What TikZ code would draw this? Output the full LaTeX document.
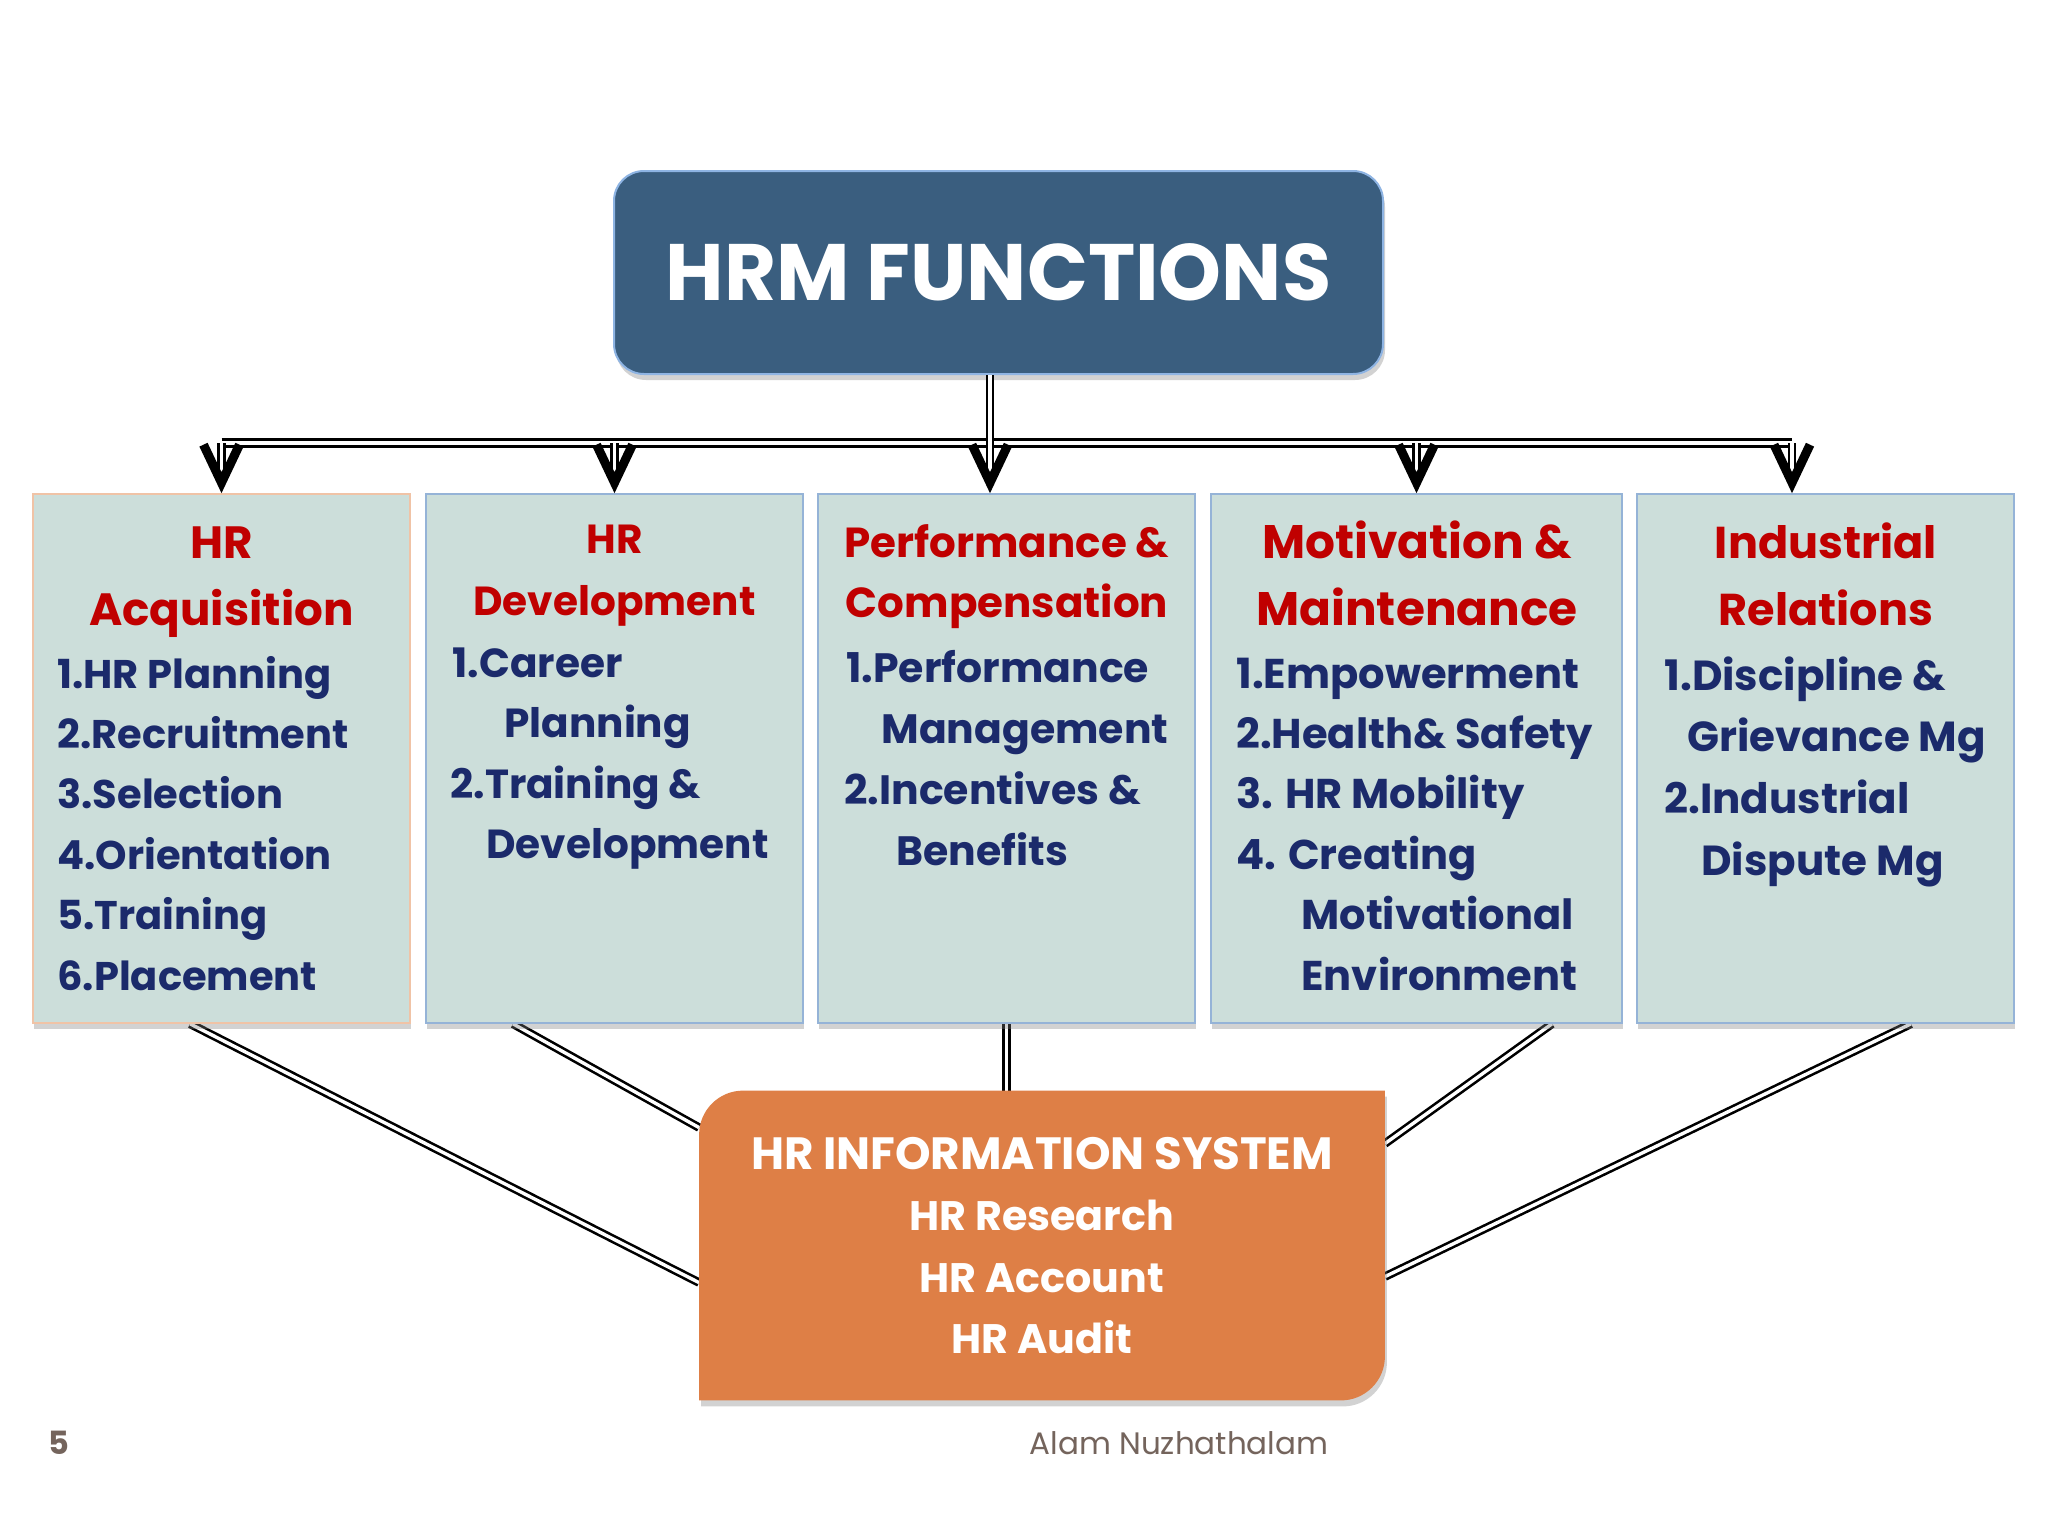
\documentclass[tikz,border=0pt]{standalone}
\usepackage{fontspec}
\setmainfont{Poppins}
\usetikzlibrary{arrows.meta,calc,shadows,backgrounds}

\definecolor{hrmblue}{HTML}{3A5E7F}
\definecolor{hrmedge}{HTML}{8EB4E3}
\definecolor{boxfill}{HTML}{CCDEDA}
\definecolor{boxedge}{HTML}{95B3D7}
\definecolor{peach}{HTML}{F0C3A6}
\definecolor{headred}{HTML}{C00000}
\definecolor{itemblue}{HTML}{1B2A6B}
\definecolor{hrisorange}{HTML}{DE7F46}
\definecolor{footgrey}{HTML}{74645C}

\tikzset{
  topbox/.style={draw=hrmedge, fill=hrmblue, line width=1pt, rounded corners=15pt,
    minimum width=384.5pt, minimum height=101.5pt, inner sep=0pt, text=white,
    font=\bfseries\fontsize{40}{40}\selectfont,
    drop shadow={shadow xshift=1pt, shadow yshift=-3pt, opacity=0.35}},
  fbox/.style={fill=boxfill, line width=0.8pt, minimum height=264.5pt, inner sep=0pt,
    drop shadow={shadow xshift=0.5pt, shadow yshift=-3pt, opacity=0.35}},
  head/.style={anchor=base, inner sep=0pt, text=headred, font=\bfseries\fontsize{#1}{#1}\selectfont},
  item/.style={anchor=base west, inner sep=0pt, text=itemblue, font=\bfseries\fontsize{#1}{#1}\selectfont},
  hristext/.style={minimum width=342.5pt, minimum height=154.5pt, inner sep=0pt, align=center,
    text=white, font=\bfseries\fontsize{20.6}{30.7}\selectfont},
  link/.style={draw=black, double=white, line width=1.3pt, double distance=1.7pt},
  bar/.style={link, line width=1.5pt, double distance=1.9pt},
  vtip/.style={line width=0.5pt, -{Straight Barb[length=19pt, width=18pt, line width=4.5pt]}},
}

\begin{document}
\begin{tikzpicture}[x=0.5pt, y=-0.5pt]
  \useasboundingbox (0,0) rectangle (2048,1536);

  \node[topbox] (hrm) at (998.5,272.5) {HRM FUNCTIONS};

  % function boxes
  \foreach \n/\cx/\w/\e in {acq/221.5/188.5/peach, dev/614.5/188.5/boxedge,
      perf/1006.5/188.5/boxedge, motiv/1416.5/205.5/boxedge, indrel/1825.5/188.5/boxedge}
  {
    \node[fbox, draw=\e, minimum width=\w pt] (\n) at (\cx,758.5) {};
  }

  % headings
  \foreach \t [count=\i] in {HR, Acquisition}
    \node[head=22.6] (acq-h\i) at (221.5,{558+(\i-1)*67}) {\t};
  \foreach \t [count=\i] in {HR, Development}
    \node[head=20.3] (dev-h\i) at (614.5,{553+(\i-1)*62}) {\t};
  \foreach \t [count=\i] in {Performance \&, Compensation}
    \node[head=21] (perf-h\i) at (1007,{557+(\i-1)*60}) {\t};
  \foreach \t [count=\i] in {Motivation \&, Maintenance}
    \node[head=23.5] (motiv-h\i) at (1417,{558+(\i-1)*67}) {\t};
  \foreach \t [count=\i] in {Industrial, Relations}
    \node[head=22.3] (indrel-h\i) at (1826,{558+(\i-1)*67}) {\t};

  % items
  \foreach \dx/\t [count=\i] in {0/1.HR Planning, 0/2.Recruitment, 0/3.Selection,
      0/4.Orientation, 0/5.Training, 0/6.Placement}
    \node[item=20] (acq-\i) at ({57+\dx},{688+(\i-1)*60.4}) {\t};
  \foreach \dx/\t [count=\i] in {2/1.Career, 54/Planning, 0/2.Training \&, 36/Development}
    \node[item=20.3] (dev-\i) at ({450+\dx},{677+(\i-1)*60.5}) {\t};
  \foreach \dx/\t [count=\i] in {2/1.Performance, 37/Management, 0/2.Incentives \&, 52/Benefits}
    \node[item=20.5] (perf-\i) at ({844+\dx},{682+(\i-1)*61}) {\t};
  \foreach \dx/\t [count=\i] in {0/1.Empowerment, 0/2.Health\& Safety, 0/3. HR Mobility,
      0/4. Creating, 65/Motivational, 65/Environment}
    \node[item=20.8] (motiv-\i) at ({1236+\dx},{688+(\i-1)*60.4}) {\t};
  \foreach \dx/\t [count=\i] in {0/1.Discipline \&, 23/Grievance Mg, 0/2.Industrial, 37/Dispute Mg}
    \node[item=21] (indrel-\i) at ({1664+\dx},{690+(\i-1)*61.7}) {\t};

  \node[hristext] (hris) at (1042,1245.5)
    {{\fontsize{22.6}{30.7}\selectfont HR INFORMATION SYSTEM}\\HR Research\\HR Account\\HR Audit};

  % arrows into the boxes
  \coordinate (bar) at (0,443);
  \foreach \b/\dx in {acq/0, dev/0, perf/-16.5, motiv/0, indrel/-33.5}
    \coordinate (\b-in) at ($(\b.north)+(\dx,0)$);
  \draw[bar] (acq-in |- bar) -- (indrel-in |- bar);
  \draw[link] (hrm.south -| perf-in) -- ($(perf-in)+(0,-16)$);
  \foreach \b in {acq, dev, motiv, indrel}
    \draw[link] (\b-in |- bar) -- ($(\b-in)+(0,-16)$);
  \foreach \b in {acq, dev, perf, motiv, indrel}
    \draw[vtip] ($(\b-in)+(0,-6)$) -- (\b-in);

  \begin{scope}[on background layer]
    \fill[white] (0,0) rectangle (2048,1536);
    \draw[link] ($(acq.south)+(-31.5,0)$) -- ($(hris.north west)+(0,192)$);
    \draw[link] ($(dev.south)+(-101.5,0)$) -- ($(hris.north west)+(0,37)$);
    \draw[link] (perf.south) -- (perf.south |- hris.north);
    \draw[link] ($(motiv.south)+(135.5,0)$) -- ($(hris.north east)+(0,53)$);
    \draw[link] ($(indrel.south)+(85.5,0)$) -- ($(hris.north east)+(0,186)$);
    \path[fill=hrisorange, drop shadow={shadow xshift=1pt, shadow yshift=-3pt, opacity=0.35}]
      (hris.north east) [rounded corners=22pt] -- (hris.south east) [sharp corners]
      -- (hris.south west) [rounded corners=22pt] -- (hris.north west) [sharp corners]
      -- cycle;
  \end{scope}

  \node[text=footgrey, font=\bfseries\fontsize{16}{16}\selectfont] (pageno) at (59,1443) {5};
  \node[text=footgrey, font=\fontsize{15.5}{16}\selectfont] (author) at (1179,1443) {Alam Nuzhathalam};
\end{tikzpicture}
\end{document}
